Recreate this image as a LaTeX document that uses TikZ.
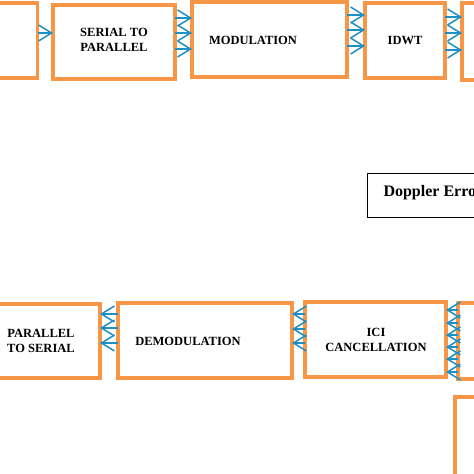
\documentclass[tikz,border=0pt]{standalone}
\usepackage{fontspec}
\setmainfont{Liberation Serif}
\usepackage{tikz}
\usetikzlibrary{arrows.meta, positioning}
\definecolor{boxorange}{RGB}{247, 150, 70}
\definecolor{arrowblue}{RGB}{30, 144, 200}

\begin{document}
\begin{tikzpicture}[x=1pt, y=-1pt,
        block/.style={rectangle, draw=boxorange, line width=3.5pt, fill=white, inner sep=0pt, outer sep=0pt},
        label/.style={font=\fontsize{12.5}{14.5}\selectfont\bfseries, align=center},
        arrow/.style={-{Straight Barb[length=13pt, width=16pt, line width=1.5pt]}, line width=1.5pt, arrowblue}
    ]
        \useasboundingbox (0,0) rectangle (474,474);
        \clip (0,0) rectangle (474,474);

        % Transmitter chain
        \node[block, minimum width=45pt, minimum height=75pt] (src) at (15,40.5) {};
        \node[block, minimum width=122pt, minimum height=74pt] (sp) at (114,42) {};
        \node[label] at (114,40) {SERIAL TO\\PARALLEL};
        \node[block, minimum width=155pt, minimum height=75pt] (mod) at (269.5,39.5) {};
        \node[label] at (253,40) {MODULATION};
        \node[block, minimum width=80pt, minimum height=75pt] (idwt) at (405,40.5) {};
        \node[label] at (405,41) {IDWT};
        \node[block, minimum width=40pt, minimum height=77pt] (chan) at (482,41.5) {};

        % Transmitter arrows
        \draw[arrow] (src.east |- 0,33) -- (sp.west |- 0,33);
        \draw[arrow] (sp.east |- 0,18) -- (mod.west |- 0,18);
        \draw[arrow] (sp.east |- 0,33) -- (mod.west |- 0,33);
        \draw[arrow] (sp.east |- 0,49) -- (mod.west |- 0,49);
        \draw[arrow] (mod.east |- 0,15) -- (idwt.west |- 0,15);
        \draw[arrow] (mod.east |- 0,30) -- (idwt.west |- 0,30);
        \draw[arrow] (mod.east |- 0,46) -- (idwt.west |- 0,46);
        \draw[arrow] (idwt.east |- 0,17) -- (chan.west |- 0,17);
        \draw[arrow] (idwt.east |- 0,33) -- (chan.west |- 0,33);
        \draw[arrow] (idwt.east |- 0,50) -- (chan.west |- 0,50);

        % Doppler error
        \node[rectangle, draw=black, line width=1pt, minimum width=140pt, minimum height=44pt] (dop) at (437,195) {};
        \node[font=\fontsize{16}{18}\selectfont\bfseries, anchor=west] at (380,193) {Doppler Error};

        % Receiver chain
        \node[block, minimum width=110pt, minimum height=74pt] (ps) at (45,341) {};
        \node[label] at (41,341) {PARALLEL\\TO SERIAL};
        \node[block, minimum width=174pt, minimum height=75pt] (demod) at (205,340.5) {};
        \node[label] at (188,341) {DEMODULATION};
        \node[block, minimum width=141pt, minimum height=75pt] (ici) at (375.5,339.5) {};
        \node[label] at (376,340) {ICI\\CANCELLATION};
        \node[block, minimum width=40pt, minimum height=76pt] (dwt) at (478,341) {};
        \node[block, minimum width=40pt, minimum height=100pt] (rx) at (475,447) {};

        % Receiver arrows
        \draw[arrow] (demod.west |- 0,314) -- (ps.east |- 0,314);
        \draw[arrow] (demod.west |- 0,328) -- (ps.east |- 0,328);
        \draw[arrow] (demod.west |- 0,343) -- (ps.east |- 0,343);
        \draw[arrow] (ici.west |- 0,314) -- (demod.east |- 0,314);
        \draw[arrow] (ici.west |- 0,329) -- (demod.east |- 0,329);
        \draw[arrow] (ici.west |- 0,343) -- (demod.east |- 0,343);
        \draw[arrow] (dwt.west |- 0,310) -- (ici.east |- 0,310);
        \draw[arrow] (dwt.west |- 0,323) -- (ici.east |- 0,323);
        \draw[arrow] (dwt.west |- 0,335) -- (ici.east |- 0,335);
        \draw[arrow] (dwt.west |- 0,347) -- (ici.east |- 0,347);
        \draw[arrow] (dwt.west |- 0,359) -- (ici.east |- 0,359);
        \draw[arrow] (dwt.west |- 0,372) -- (ici.east |- 0,372);

    \end{tikzpicture}
\end{document}
